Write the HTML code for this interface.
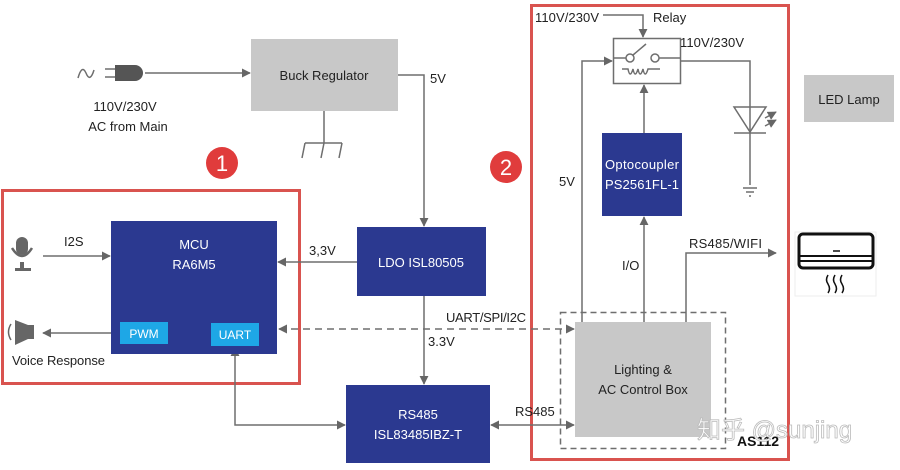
<!DOCTYPE html>
<html><head><meta charset="utf-8"><style>
html,body{margin:0;padding:0;background:#fff;}
svg{display:block;font-family:"Liberation Sans",sans-serif;}
</style></head><body>
<svg width="900" height="470" viewBox="0 0 900 470" xmlns="http://www.w3.org/2000/svg">
<defs>
<marker id="a" viewBox="0 0 10 10" refX="9" refY="5" markerWidth="9" markerHeight="9" markerUnits="userSpaceOnUse" orient="auto-start-reverse"><path d="M0,0L10,5L0,10z" fill="#666"/></marker>
</defs>
<g fill="none" stroke="#6e6e6e" stroke-width="1.5">
<rect x="2.5" y="190.5" width="297" height="193" stroke="#d9534f" stroke-width="3"/>
<rect x="531.5" y="5.5" width="257" height="454" stroke="#d9534f" stroke-width="3"/>
<line x1="145" y1="73" x2="250" y2="73" marker-end="url(#a)"/>
<path d="M78,78 q4,-14 8,-5 q4,10 8,-3"/>
<line x1="105" y1="69" x2="115" y2="69"/><line x1="105" y1="77" x2="115" y2="77"/>
<line x1="324" y1="111" x2="324" y2="143"/>
<line x1="305" y1="143" x2="342" y2="143"/>
<line x1="305" y1="143" x2="302" y2="158"/><line x1="324" y1="143" x2="321" y2="158"/><line x1="342" y1="143" x2="339" y2="158"/>
<polyline points="398,75 424,75 424,226" marker-end="url(#a)"/>
<line x1="357" y1="262" x2="278" y2="262" marker-end="url(#a)"/>
<line x1="424" y1="296" x2="424" y2="384" marker-end="url(#a)"/>
<line x1="279" y1="329" x2="574" y2="329" stroke-dasharray="7,5" marker-start="url(#a)" marker-end="url(#a)"/>
<polyline points="235,348 235,425 345,425" marker-start="url(#a)" marker-end="url(#a)"/>
<line x1="491" y1="425" x2="574" y2="425" marker-start="url(#a)" marker-end="url(#a)"/>
<line x1="43" y1="256" x2="110" y2="256" marker-end="url(#a)"/>
<line x1="111" y1="333" x2="43" y2="333" marker-end="url(#a)"/>
<rect x="560.5" y="312.5" width="165" height="136" stroke-dasharray="6,4"/>
<polyline points="582,322 582,61 612,61" marker-end="url(#a)"/>
<line x1="644" y1="322" x2="644" y2="217" marker-end="url(#a)"/>
<line x1="644" y1="133" x2="644" y2="85" marker-end="url(#a)"/>
<polyline points="686,322 686,253 776,253" marker-end="url(#a)"/>
<polyline points="603,15 643,15 643,37" marker-end="url(#a)"/>
<rect x="613.5" y="38.5" width="67" height="45" fill="#fff"/>
<line x1="613" y1="58" x2="626" y2="58"/><circle cx="630" cy="58" r="4"/><line x1="633" y1="55" x2="646" y2="44"/>
<circle cx="655" cy="58" r="4"/><line x1="659" y1="58" x2="681" y2="58"/>
<path d="M622,69 h6 q2,10 5,0 q2,10 5,0 q2,10 5,0 q2,10 5,0 h12"/>
<polyline points="681,61 750,61 750,185"/>
<path d="M734,107 L766,107 L750,132 Z"/>
<line x1="734" y1="133" x2="766" y2="133"/>
<line x1="765" y1="118" x2="776" y2="112" marker-end="url(#a)"/><line x1="765" y1="126" x2="776" y2="120" marker-end="url(#a)"/>
<line x1="743" y1="188" x2="757" y2="188"/><line x1="746" y1="192" x2="754" y2="192"/><line x1="749" y1="196" x2="751" y2="196"/>
</g>
<path d="M115,65 h20 a8,8 0 0 1 0,16 h-20z" fill="#555"/>
<rect x="251" y="39" width="147" height="72" fill="#c8c8c8"/>
<rect x="357" y="227" width="129" height="69" fill="#2b3990"/>
<rect x="346" y="385" width="144" height="78" fill="#2b3990"/>
<rect x="111" y="221" width="166" height="133" fill="#2b3990"/>
<rect x="120" y="322" width="48" height="22" fill="#1ea7e6"/>
<rect x="211" y="323" width="48" height="23" fill="#1ea7e6"/>
<rect x="602" y="133" width="80" height="83" fill="#2b3990"/>
<rect x="575" y="322" width="136" height="115" fill="#c8c8c8"/>
<rect x="804" y="75" width="90" height="47" fill="#c8c8c8"/>
<circle cx="222" cy="163" r="16" fill="#e03c3c"/>
<circle cx="506" cy="167" r="16" fill="#e03c3c"/>
<text x="222" y="171" font-size="22" fill="#fff" text-anchor="middle">1</text>
<text x="506" y="175" font-size="22" fill="#fff" text-anchor="middle">2</text>
<rect x="16" y="237" width="12" height="18" rx="6" fill="#666"/>
<path d="M12,248 q10,16 20,0" fill="none" stroke="#666" stroke-width="2.5"/>
<rect x="20" y="262" width="4" height="6" fill="#666"/><rect x="15" y="268" width="16" height="3" fill="#666"/>
<rect x="28" y="325" width="6" height="14" fill="#666"/>
<path d="M15,320 L28,325 L28,339 L15,345 Z" fill="#666"/>
<path d="M11,324 q-5,8 0,16" fill="none" stroke="#666" stroke-width="1.5"/>
<rect x="795" y="232" width="81" height="64" fill="#fff" stroke="#eee"/>
<rect x="799" y="234" width="74" height="34" rx="4" fill="#fff" stroke="#111" stroke-width="3"/>
<line x1="800" y1="256" x2="872" y2="256" stroke="#111" stroke-width="2"/>
<line x1="800" y1="261" x2="872" y2="261" stroke="#111" stroke-width="2"/>
<line x1="833" y1="251" x2="840" y2="251" stroke="#111" stroke-width="1.5"/>
<g fill="none" stroke="#111" stroke-width="1.5"><path d="M828,275 q-3,5 0,9 q3,5 0,9"/><path d="M835,275 q-3,5 0,9 q3,5 0,9"/><path d="M842,275 q-3,5 0,9 q3,5 0,9"/></g>
<g font-size="13" fill="#222">
<text x="324" y="80" text-anchor="middle">Buck Regulator</text>
<text x="430" y="83">5V</text>
<text x="125" y="111" text-anchor="middle">110V/230V</text>
<text x="128" y="131" text-anchor="middle">AC from Main</text>
<text x="64" y="246">I2S</text>
<text x="309" y="255">3,3V</text>
<text x="446" y="322" textLength="80">UART/SPI/I2C</text>
<text x="428" y="346">3.3V</text>
<text x="12" y="365" textLength="93">Voice Response</text>
<text x="515" y="416">RS485</text>
<text x="535" y="22" textLength="64">110V/230V</text>
<text x="653" y="22">Relay</text>
<text x="680" y="47" textLength="64">110V/230V</text>
<text x="559" y="186">5V</text>
<text x="622" y="270">I/O</text>
<text x="689" y="248" textLength="73">RS485/WIFI</text>
<text x="849" y="104" text-anchor="middle">LED Lamp</text>
<text x="643" y="374" text-anchor="middle">Lighting &amp;</text>
<text x="643" y="394" text-anchor="middle">AC Control Box</text>
<text x="737" y="446" font-weight="bold" font-size="14" fill="#111">AS112</text>
</g>
<g font-size="13" fill="#fff" text-anchor="middle">
<text x="194" y="249">MCU</text>
<text x="194" y="269">RA6M5</text>
<text x="421" y="267">LDO ISL80505</text>
<text x="418" y="419">RS485</text>
<text x="418" y="439">ISL83485IBZ-T</text>
<text x="642" y="169" textLength="74">Optocoupler</text>
<text x="642" y="189" textLength="74">PS2561FL-1</text>
<text x="144" y="338" font-size="12">PWM</text>
<text x="235" y="339" font-size="12">UART</text>
</g>
<text x="697" y="438" font-size="24" fill="#fff" stroke="#bbb" stroke-width="0.8" font-family="'Liberation Sans','Noto Sans CJK SC',sans-serif">知乎 @sunjing</text>
</svg>
</body></html>
